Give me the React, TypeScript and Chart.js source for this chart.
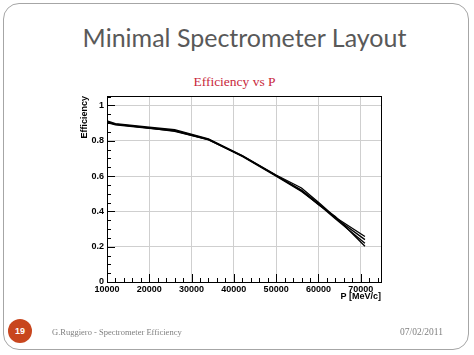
import { useEffect, useRef } from "react";
import { Chart, registerables } from "chart.js";

Chart.register(...registerables);

// ---- data ----
const momentum = [10000, 12000, 20000, 26000, 34000, 42000, 50000, 56000, 60000, 64000, 71000];
const effRunA = [0.912, 0.897, 0.876, 0.862, 0.81, 0.716, 0.606, 0.532, 0.452, 0.366, 0.258];
const effRunB = [0.908, 0.894, 0.873, 0.858, 0.808, 0.713, 0.602, 0.52, 0.446, 0.362, 0.24];
const effRunC = [0.905, 0.892, 0.871, 0.853, 0.806, 0.711, 0.599, 0.512, 0.44, 0.358, 0.22];
const effRunD = [0.903, 0.89, 0.87, 0.855, 0.805, 0.714, 0.603, 0.516, 0.437, 0.371, 0.202];
const seriesList = [effRunA, effRunB, effRunC, effRunD];

const xTickValues = [10000, 20000, 30000, 40000, 50000, 60000, 70000];
const yTickValues = [0, 0.2, 0.4, 0.6, 0.8, 1];
const yTickLabels = ["0", "0.2", "0.4", "0.6", "0.8", "1"];

const xMin = 10000;
const xMax = 74800;
const xMinor = 2000;
const yMin = 0;
const yMax = 1.053;
const yMinor = 0.05;

const slideTitle = "Minimal Spectrometer Layout";
const chartTitle = "Efficiency vs P";
const yTitle = "Efficiency";
const xTitle = "P [MeV/c]";
const footerText = "G.Ruggiero - Spectrometer Efficiency";
const footerDate = "07/02/2011";
const slideNumber = "19";

const axisFont = { family: "'Liberation Sans', Arial, sans-serif", size: 9, weight: "bold" as const };

const innerTicksPlugin = {
  id: "innerTicks",
  afterDraw(chart: any) {
    const { ctx, chartArea, scales } = chart;
    const xs = scales.x;
    const ys = scales.y;
    ctx.save();
    ctx.strokeStyle = "#000";
    ctx.lineWidth = 1;
    ctx.beginPath();
    const nY = Math.round((yMax - yMin) / yMinor);
    for (let i = 0; i <= nY; i++) {
      const v = yMin + i * yMinor;
      if (v > yMax) break;
      const py = Math.round(ys.getPixelForValue(v)) + 0.5;
      const major = i % 4 === 0;
      const len = major ? 8 : 4;
      ctx.moveTo(chartArea.left, py);
      ctx.lineTo(chartArea.left + len, py);
    }
    for (let v = xMin; v <= xMax; v += xMinor) {
      const px = Math.round(xs.getPixelForValue(v)) + 0.5;
      const major = v % 10000 === 0;
      const len = major ? 8 : 4;
      ctx.moveTo(px, chartArea.bottom);
      ctx.lineTo(px, chartArea.bottom - len);
    }
    ctx.stroke();
    ctx.strokeRect(
      Math.round(chartArea.left) + 0.5,
      Math.round(chartArea.top) + 0.5,
      Math.round(chartArea.right - chartArea.left),
      Math.round(chartArea.bottom - chartArea.top)
    );
    ctx.restore();
  },
};

function EfficiencyChart() {
  const ref = useRef<HTMLCanvasElement | null>(null);
  useEffect(() => {
    if (!ref.current) return;
    const chart = new Chart(ref.current, {
      type: "line",
      data: {
        datasets: seriesList.map((s, i) => ({
          label: "run " + (i + 1),
          data: momentum.map((p, k) => ({ x: p, y: s[k] })),
          borderColor: "#000",
          borderWidth: 1.3,
          pointRadius: 0,
          fill: false,
          tension: 0,
        })),
      },
      options: {
        animation: false,
        responsive: true,
        maintainAspectRatio: false,
        layout: { padding: { left: 60, top: 96, right: 93, bottom: 53 } },
        plugins: { legend: { display: false }, tooltip: { enabled: false } },
        scales: {
          x: {
            type: "linear",
            min: xMin,
            max: xMax,
            grid: { color: "#cfcfcf", drawTicks: false },
            border: { display: true, color: "#000" },
            afterBuildTicks: (s: any) => {
              s.ticks = xTickValues.map((v) => ({ value: v }));
            },
            ticks: {
              maxRotation: 0,
              autoSkip: false,
              padding: 2,
              color: "#000",
              font: axisFont,
              callback: (v: any) => String(v),
            },
            title: {
              display: true,
              text: xTitle,
              align: "end",
              color: "#000",
              font: axisFont,
              padding: { top: 0, bottom: 0 },
            },
            afterFit: (s: any) => {
              s.height = 20;
            },
          },
          y: {
            type: "linear",
            min: yMin,
            max: yMax,
            grid: { color: "#cfcfcf", drawTicks: false },
            border: { display: true, color: "#000" },
            afterBuildTicks: (s: any) => {
              s.ticks = yTickValues.map((v) => ({ value: v }));
            },
            ticks: {
              autoSkip: false,
              padding: 3,
              color: "#000",
              font: axisFont,
              callback: (v: any, i: number) => yTickLabels[i],
            },
            title: {
              display: true,
              text: yTitle,
              align: "end",
              color: "#000",
              font: axisFont,
              padding: { top: 19.6, bottom: 0 },
            },
            afterFit: (s: any) => {
              s.width = 47;
            },
          },
        },
      },
      plugins: [innerTicksPlugin],
    } as any);
    return () => chart.destroy();
  }, []);
  return <canvas ref={ref} />;
}

export default function App() {
  return (
    <div
      style={{
        position: "absolute",
        left: 0,
        top: 0,
        width: 474,
        height: 355,
        background: "#fff",
        overflow: "hidden",
      }}
    >
      <div
        style={{
          position: "absolute",
          left: 3,
          top: 3,
          width: 466,
          height: 347,
          boxSizing: "border-box",
          border: "1px solid #a6a6a6",
          borderRadius: 16,
        }}
      />
      <div
        style={{
          position: "absolute",
          left: 244.5,
          top: 25,
          transform: "translateX(-50%)",
          whiteSpace: "nowrap",
          fontFamily: "Lato, 'Open Sans', sans-serif",
          fontSize: 25,
          lineHeight: "25px",
          color: "#595959",
        }}
      >
        {slideTitle}
      </div>
      <div
        style={{
          position: "absolute",
          left: 234.5,
          top: 74.5,
          transform: "translateX(-50%)",
          whiteSpace: "nowrap",
          fontFamily: "'Liberation Serif', serif",
          fontSize: 13.5,
          lineHeight: "14px",
          color: "#c8283c",
        }}
      >
        {chartTitle}
      </div>
      <div style={{ position: "absolute", left: 0, top: 0, width: 474, height: 355 }}>
        <EfficiencyChart />
      </div>
      <div
        style={{
          position: "absolute",
          left: 8,
          top: 319,
          width: 24,
          height: 24,
          borderRadius: "50%",
          background: "#c8461e",
          color: "#fff",
          fontFamily: "'Liberation Sans', Arial, sans-serif",
          fontWeight: "bold",
          fontSize: 9,
          display: "flex",
          alignItems: "center",
          justifyContent: "center",
        }}
      >
        {slideNumber}
      </div>
      <div
        style={{
          position: "absolute",
          left: 52,
          top: 327,
          whiteSpace: "nowrap",
          fontFamily: "'Liberation Serif', serif",
          fontSize: 8.5,
          lineHeight: "10px",
          color: "#7f7f7f",
        }}
      >
        {footerText}
      </div>
      <div
        style={{
          position: "absolute",
          right: 474 - 443,
          top: 327,
          whiteSpace: "nowrap",
          fontFamily: "'Liberation Serif', serif",
          fontSize: 9.5,
          lineHeight: "10px",
          color: "#7f7f7f",
        }}
      >
        {footerDate}
      </div>
    </div>
  );
}
